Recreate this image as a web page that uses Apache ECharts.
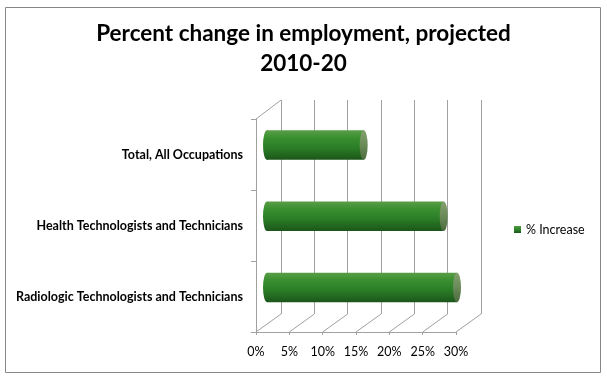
<!DOCTYPE html>
<html><head><meta charset="utf-8">
<script src="https://cdn.jsdelivr.net/npm/echarts@6/dist/echarts.min.js"></script>
<style>html,body{margin:0;padding:0;background:#fff}#c{width:607px;height:382px}</style>
</head><body><div id="c"></div>
<script>
// ---- data ----
const categories = ['Radiologic Technologists and Technicians', 'Health Technologists and Technicians', 'Total, All Occupations'];
const increase = [28.5, 26.5, 14.5];
const xTicks = [0, 5, 10, 15, 20, 25, 30];
const seriesName = '% Increase';
const titleText = 'Percent change in employment, projected\n2010-20';

// ---- layout (styles/positions) ----
const L = {
  front: { left: 256, top: 119, width: 200, height: 213 },
  back:  { left: 281, top: 100, width: 200, height: 214 },
  bars:  { left: 267, top: 109.5, width: 200, height: 213.5 }
};
const xMin = xTicks[0], xMax = xTicks[xTicks.length - 1], xInt = xTicks[1] - xTicks[0];
const gridColor = '#a0a0a0';
const font = 'Lato, "Open Sans", sans-serif';

const chart = echarts.init(document.getElementById('c'), null, { renderer: 'canvas' });

const barGrad = new echarts.graphic.LinearGradient(0, 0, 0, 1, [
  { offset: 0, color: '#5a9e48' },
  { offset: 0.25, color: '#3a8f30' },
  { offset: 0.6, color: '#2a7d26' },
  { offset: 1, color: '#1b551a' }
]);
const capGrad = new echarts.graphic.LinearGradient(0, 0, 0, 1, [
  { offset: 0, color: '#86a070' },
  { offset: 0.5, color: '#6a8a58' },
  { offset: 1, color: '#4d6a3e' }
]);

function gridOf(b) { return { left: b.left, top: b.top, width: b.width, height: b.height, containLabel: false, outerBoundsMode: 'none' }; }

chart.setOption({
  animation: false,
  backgroundColor: '#fff',
  title: {
    text: titleText, left: 'center', top: 14,
    textStyle: { fontFamily: font, fontWeight: 'bold', fontSize: 22.5, lineHeight: 30, color: '#000' }
  },
  legend: {
    data: [seriesName], left: 509, top: 218, itemWidth: 7, itemHeight: 7, itemGap: 4,
    textStyle: { fontFamily: font, fontSize: 12.5, color: '#000' },
    icon: 'rect'
  },
  grid: [gridOf(L.bars), gridOf(L.front), gridOf(L.back)],
  xAxis: [
    { gridIndex: 0, type: 'value', min: xMin, max: xMax, interval: xInt, show: false },
    { gridIndex: 1, type: 'value', min: xMin, max: xMax, interval: xInt,
      axisLine: { show: true, lineStyle: { color: gridColor } },
      axisTick: { show: true, length: 3, lineStyle: { color: gridColor } },
      splitLine: { show: false },
      axisLabel: { formatter: '{value}%', fontFamily: font, fontSize: 12.5, color: '#000', margin: 13 } },
    { gridIndex: 2, type: 'value', min: xMin, max: xMax, interval: xInt,
      axisLine: { show: false }, axisTick: { show: false }, axisLabel: { show: false },
      splitLine: { show: true, lineStyle: { color: gridColor } } }
  ],
  yAxis: [
    { gridIndex: 0, type: 'category', data: categories, show: false },
    { gridIndex: 1, type: 'category', data: categories,
      axisLine: { show: true, lineStyle: { color: gridColor } },
      axisTick: { show: true, length: 5, lineStyle: { color: gridColor } },
      axisLabel: { fontFamily: font, fontWeight: 'bold', fontSize: 12.5, color: '#000', margin: 13 } },
    { gridIndex: 2, type: 'category', data: categories, show: false }
  ],
  series: [
    { name: 'leftCap', type: 'scatter', xAxisIndex: 0, yAxisIndex: 0, z: 1, silent: true,
      symbol: 'circle', symbolSize: [8, 29.5],
      itemStyle: { color: barGrad, opacity: 1 },
      data: categories.map((c, i) => [0, i]) },
    { name: seriesName, type: 'bar', xAxisIndex: 0, yAxisIndex: 0, z: 2,
      barWidth: 29.5, itemStyle: { color: barGrad },
      data: increase },
    { name: 'rightCap', type: 'scatter', xAxisIndex: 0, yAxisIndex: 0, z: 3, silent: true,
      symbol: 'circle', symbolSize: [8, 29.5],
      itemStyle: { color: capGrad, opacity: 1 },
      data: increase.map((v, i) => [v, i]) }
  ]
});

// 3D frame decorations derived from the axes
const frontBottom = L.front.top + L.front.height;
const backBottom = L.back.top + L.back.height;
const lines = [];
xTicks.forEach(t => {
  const xf = chart.convertToPixel({ xAxisIndex: 1 }, t);
  const xb = chart.convertToPixel({ xAxisIndex: 2 }, t);
  lines.push({ type: 'line', z: 0, silent: true, shape: { x1: xf, y1: frontBottom, x2: xb, y2: backBottom }, style: { stroke: gridColor, lineWidth: 1 } });
});
// left wall top edge
const xf0 = chart.convertToPixel({ xAxisIndex: 1 }, xMin);
const xb0 = chart.convertToPixel({ xAxisIndex: 2 }, xMin);
lines.push({ type: 'line', z: 0, silent: true, shape: { x1: xf0, y1: L.front.top, x2: xb0, y2: L.back.top }, style: { stroke: gridColor, lineWidth: 1 } });
// outer border
lines.push({ type: 'rect', z: 10, silent: true, shape: { x: 5.5, y: 7.5, width: 595, height: 365 }, style: { fill: null, stroke: '#868686', lineWidth: 1 } });
chart.setOption({ graphic: lines });
</script>
</body></html>
